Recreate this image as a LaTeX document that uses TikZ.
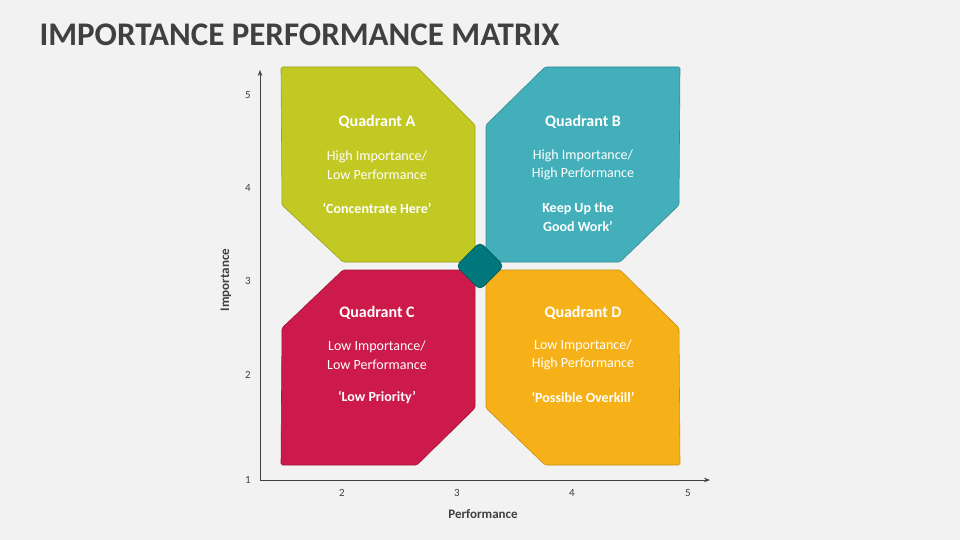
\documentclass[tikz,border=0pt]{standalone}
\usepackage{fontspec}
\setmainfont{Carlito}
\usetikzlibrary{arrows.meta}
\definecolor{bgcol}{HTML}{F2F2F2}
\definecolor{titlecol}{HTML}{404040}
\definecolor{qa}{HTML}{C2C923}
\definecolor{qb}{HTML}{42AFBA}
\definecolor{qc}{HTML}{CC1A4A}
\definecolor{qd}{HTML}{F7B118}
\definecolor{hub}{HTML}{00777A}
\tikzset{
  quad/.style={draw=#1!80!black, fill=#1, line width=0.6pt, rounded corners=1.5pt},
  qhead/.style={text=white, font=\fontsize{16}{19}\selectfont\bfseries},
  qbody/.style={text=white, align=center, font=\fontsize{14}{18.5}\selectfont},
  qnote/.style={text=white, align=center, font=\fontsize{14}{19}\selectfont\bfseries},
  tick/.style={font=\fontsize{11}{13}\selectfont, text=titlecol},
  axlab/.style={font=\fontsize{13}{15}\selectfont\bfseries, text=titlecol}
}
\begin{document}
\begin{tikzpicture}[x=1pt,y=-1pt]
    \fill[bgcol] (0,0) rectangle (960,540);
    \node[anchor=west, text=titlecol, font=\fontsize{33}{38}\selectfont\bfseries] (title) at (36,35) {IMPORTANCE PERFORMANCE MATRIX};

    % axes
    \coordinate (orig) at (260,480);
    \coordinate (ytop) at (260,70);
    \coordinate (xend) at (710,480);
    \draw[titlecol, line width=0.7pt, -{Stealth[length=6pt]}] (orig) -- (ytop);
    \draw[titlecol, line width=0.7pt, -{Stealth[length=6pt]}] (orig) -- (xend);

    \node[tick] (y1) at (248,480) {1};
    \node[tick] (y2) at (248,375) {2};
    \node[tick] (y3) at (248,281) {3};
    \node[tick] (y4) at (248,188) {4};
    \node[tick] (y5) at (248,95) {5};
    \node[tick] (x2) at (342,493) {2};
    \node[tick] (x3) at (457,493) {3};
    \node[tick] (x4) at (572,493) {4};
    \node[tick] (x5) at (688,493) {5};
    \node[axlab] (xlab) at (483,514) {Performance};
    \node[axlab, rotate=90] (ylab) at (226,280) {Importance};

    % quadrants
    \draw[quad=qa] (281,67) -- (417,67) -- (475,125) -- (475,262) -- (343,262) -- (282,205) -- cycle;
    \draw[quad=qb] (545,67) -- (680,67) -- (679,205) -- (620,262) -- (486,262) -- (486,125) -- cycle;
    \draw[quad=qc] (343,270) -- (475,270) -- (475,408) -- (417,465) -- (281,465) -- (282,328) -- cycle;
    \draw[quad=qd] (486,270) -- (620,270) -- (679,328) -- (680,465) -- (545,465) -- (486,408) -- cycle;
    \draw[hub!70!black, fill=hub, line width=0.6pt, rounded corners=5pt] (480,242) -- (504,266) -- (480,290) -- (456,266) -- cycle;

    \node[qhead] (ha) at (377,122) {Quadrant A};
    \node[qbody] (ba) at (377,165) {High Importance/\\Low Performance};
    \node[qnote] (na) at (377,208) {‘Concentrate Here’};

    \node[qhead] (hb) at (583,122) {Quadrant B};
    \node[qbody] (bb) at (583,165) {High Importance/\\High Performance};
    \node[qnote] (nb) at (578,217) {Keep Up the\\Good Work’};

    \node[qhead] (hc) at (377,313) {Quadrant C};
    \node[qbody] (bc) at (377,355) {Low Importance/\\Low Performance};
    \node[qnote] (nc) at (377,397) {‘Low Priority’};

    \node[qhead] (hd) at (583,313) {Quadrant D};
    \node[qbody] (bd) at (583,355) {Low Importance/\\High Performance};
    \node[qnote] (nd) at (583,397) {‘Possible Overkill’};
\end{tikzpicture}
\end{document}
